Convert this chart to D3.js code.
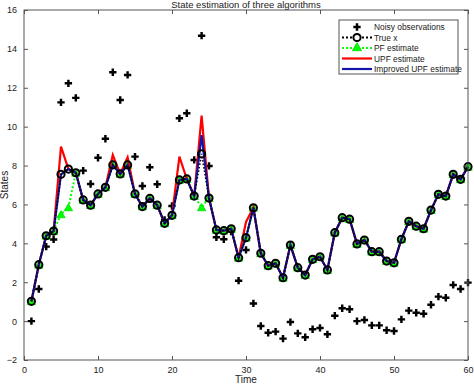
<!DOCTYPE html>
<html><head><meta charset="utf-8">
<script src="https://cdn.jsdelivr.net/npm/d3@7"></script>
<style>
html,body{margin:0;padding:0;background:#fff;}
svg{display:block;font-family:"Liberation Sans",Arial,sans-serif;}
</style></head>
<body>
<svg id="chart" width="474" height="384"></svg>
<script>
const title = "State estimation of three algorithms";
const xLabel = "Time";
const yLabel = "States";
const xTicks = [0,10,20,30,40,50,60];
const yTicks = [-2,0,2,4,6,8,10,12,14,16];
const seriesNames = ["Noisy observations","True x","PF estimate","UPF estimate","Improved UPF estimate"];
const time = d3.range(1,61);
const observations = [0.0,1.65,3.83,4.2,11.25,12.23,11.48,7.74,7.05,8.4,9.38,12.8,11.37,12.66,8.46,6.95,7.91,7.04,5.2,5.92,10.43,10.69,8.29,14.68,7.98,4.31,4.21,4.6,2.08,3.66,0.91,-0.25,-0.6,-0.54,-0.9,-0.05,-0.63,-0.83,-0.42,-0.35,-0.68,0.28,0.66,0.61,0.0,0.06,-0.22,-0.22,-0.47,-0.51,0.09,0.54,0.43,0.38,0.84,1.26,1.2,1.86,1.65,1.98];
const trueX = [1.02,2.9,4.39,4.63,7.55,7.82,7.63,6.23,5.96,6.54,6.88,8.03,7.57,8.03,6.54,5.89,6.31,5.96,5.03,5.44,7.26,7.31,6.43,8.6,6.33,4.69,4.65,4.75,3.26,4.29,5.83,3.49,2.85,2.97,2.23,3.91,2.75,2.37,3.18,3.31,2.63,4.55,5.32,5.24,3.97,4.17,3.57,3.57,3.09,3.0,4.21,5.13,4.88,4.75,5.71,6.52,6.43,7.55,7.29,7.94];
const pfEst = [1.02,2.9,4.39,4.63,5.49,5.85,7.63,6.23,5.96,6.54,6.88,8.03,7.57,8.03,6.54,5.89,6.31,5.96,5.03,5.44,7.26,7.31,6.43,5.85,6.33,4.69,4.65,4.75,3.26,4.29,5.83,3.49,2.85,2.97,2.23,3.91,2.75,2.37,3.18,3.31,2.63,4.55,5.32,5.24,3.97,4.17,3.57,3.57,3.09,3.0,4.21,5.13,4.88,4.75,5.71,6.52,6.43,7.55,7.29,7.94];
const upfEst = [1.02,2.9,4.39,4.63,8.97,7.82,7.63,6.23,5.96,6.54,6.88,8.54,7.57,8.42,6.54,5.89,6.31,5.96,5.03,5.44,8.46,7.31,6.43,10.57,6.33,4.69,4.65,4.75,3.26,5.1,5.83,3.49,2.85,2.97,2.23,3.91,2.75,2.37,3.18,3.31,2.63,4.55,5.32,5.24,3.97,4.17,3.57,3.57,3.09,3.0,4.21,5.13,4.88,4.75,5.71,6.52,6.43,7.55,7.29,7.94];
const iupfEst = [1.02,2.9,4.39,4.63,7.55,7.82,7.63,6.23,5.96,6.54,6.88,8.03,7.57,8.03,6.54,5.89,6.31,5.96,5.03,5.44,7.26,7.31,6.43,9.57,6.33,4.69,4.65,4.75,3.26,4.29,5.83,3.49,2.85,2.97,2.23,3.91,2.75,2.37,3.18,3.31,2.63,4.55,5.32,5.24,3.97,4.17,3.57,3.57,3.09,3.0,4.21,5.13,4.88,4.75,5.71,6.52,6.43,7.55,7.29,7.94];

const L=24,R=468,T=10,B=360;
const svg=d3.select("#chart");
const x=d3.scaleLinear().domain([0,60]).range([L,R]);
const y=d3.scaleLinear().domain([-2,16]).range([B,T]);
const axisColor="#555";
const blue="#1414a8";

const toPts = arr => time.map((t,i)=>({t,v:arr[i]}));
const line=d3.line().x(d=>x(d.t)).y(d=>y(d.v));

const g=svg.append("g");

// observations
const plus=d3.symbol().type(d3.symbolCross).size(30);
g.selectAll(".obs").data(toPts(observations)).join("path")
  .attr("transform",d=>`translate(${x(d.t)},${y(d.v)})`)
  .attr("d",plus).attr("fill","#000");

// PF green dotted + triangles (drawn underneath)
g.append("path").datum(toPts(pfEst)).attr("d",line).attr("fill","none")
  .attr("stroke","#00ff00").attr("stroke-width",2).attr("stroke-dasharray","2,2");
const tri=d3.symbol().type(d3.symbolTriangle).size(30);
const triLeg=d3.symbol().type(d3.symbolTriangle).size(38);
g.selectAll(".pf").data(toPts(pfEst)).join("path")
  .attr("transform",d=>`translate(${x(d.t)},${y(d.v)+1})`)
  .attr("d",tri).attr("fill","#00ff00").attr("stroke","#00e000").attr("stroke-width",0.8);
// UPF red
g.append("path").datum(toPts(upfEst)).attr("d",line).attr("fill","none")
  .attr("stroke","#ff0000").attr("stroke-width",2.2);
// Improved UPF blue
g.append("path").datum(toPts(iupfEst)).attr("d",line).attr("fill","none")
  .attr("stroke",blue).attr("stroke-width",2.2);
// True x black dotted + circles
g.append("path").datum(toPts(trueX)).attr("d",line).attr("fill","none")
  .attr("stroke","#000").attr("stroke-width",1.6).attr("stroke-dasharray","1.5,2");
g.selectAll(".tx").data(toPts(trueX)).join("circle")
  .attr("cx",d=>x(d.t)).attr("cy",d=>y(d.v)).attr("r",3.6)
  .attr("fill","none").attr("stroke","#000").attr("stroke-width",2);

// axes frame
svg.append("rect").attr("x",L).attr("y",T).attr("width",R-L).attr("height",B-T)
  .attr("fill","none").attr("stroke",axisColor).attr("stroke-width",1);

const tl=4;
const xa=svg.append("g").attr("transform",`translate(0,${B})`)
  .call(d3.axisBottom(x).tickValues(xTicks).tickSize(-tl).tickPadding(7).tickSizeOuter(0));
const xt=svg.append("g").attr("transform",`translate(0,${T})`)
  .call(d3.axisTop(x).tickValues(xTicks).tickSize(-tl).tickFormat("").tickSizeOuter(0));
const ya=svg.append("g").attr("transform",`translate(${L},0)`)
  .call(d3.axisLeft(y).tickValues(yTicks).tickSize(-tl).tickPadding(7).tickSizeOuter(0));
const yr=svg.append("g").attr("transform",`translate(${R},0)`)
  .call(d3.axisRight(y).tickValues(yTicks).tickSize(-tl).tickFormat("").tickSizeOuter(0));
[xa,xt,ya,yr].forEach(a=>{
  a.select(".domain").remove();
  a.selectAll("line").attr("stroke",axisColor);
  a.selectAll("text").attr("fill","#222").attr("font-size","9px")
   .attr("font-family","'Liberation Sans',Arial,sans-serif");
});

// labels
svg.append("text").attr("x",(L+R)/2).attr("y",8).attr("text-anchor","middle")
  .attr("font-size","9.5px").attr("fill","#222").text(title);
svg.append("text").attr("x",(L+R)/2).attr("y",383).attr("text-anchor","middle")
  .attr("font-size","10px").attr("fill","#222").text(xLabel);
svg.append("text").attr("transform",`translate(8,${(T+B)/2}) rotate(-90)`)
  .attr("text-anchor","middle").attr("font-size","10px").attr("fill","#222").text(yLabel);

// legend
const lg=svg.append("g");
lg.append("rect").attr("x",339).attr("y",20).attr("width",119).attr("height",54)
  .attr("fill","#fff").attr("stroke",axisColor).attr("stroke-width",1);
const ly=[27,37.5,48,58.5,69];
const lx0=342,lx1=372,lxc=357;
seriesNames.forEach((name,i)=>{
  const yy=ly[i];
  if(i===0){
    lg.append("path").attr("transform",`translate(${lxc},${yy})`).attr("d",plus).attr("fill","#000");
  } else if(i===1){
    lg.append("line").attr("x1",lx0).attr("x2",lx1).attr("y1",yy).attr("y2",yy)
      .attr("stroke","#000").attr("stroke-width",2).attr("stroke-dasharray","2,2");
    lg.append("circle").attr("cx",lxc).attr("cy",yy).attr("r",3.6).attr("fill","#fff")
      .attr("stroke","#000").attr("stroke-width",2);
  } else if(i===2){
    lg.append("line").attr("x1",lx0).attr("x2",lx1).attr("y1",yy).attr("y2",yy)
      .attr("stroke","#00ff00").attr("stroke-width",2).attr("stroke-dasharray","2,2");
    lg.append("path").attr("transform",`translate(${lxc},${yy})`).attr("d",triLeg)
      .attr("fill","#00ff00").attr("stroke","#00e000").attr("stroke-width",0.8);
  } else {
    lg.append("line").attr("x1",lx0).attr("x2",lx1).attr("y1",yy).attr("y2",yy)
      .attr("stroke",i===3?"#ff0000":blue).attr("stroke-width",2.2);
  }
  lg.append("text").attr("x",374).attr("y",yy+3).attr("font-size","8.4px")
    .attr("fill","#222").text(name);
});
</script>
</body></html>
